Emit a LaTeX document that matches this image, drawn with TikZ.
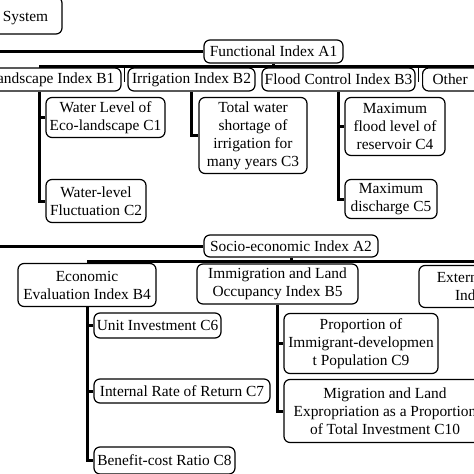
\documentclass[tikz,border=0pt]{standalone}
\usepackage{fontspec}
\setmainfont{Liberation Serif}
\begin{document}
\begin{tikzpicture}[x=1pt, y=-1pt,
  box/.style={draw, line width=1.2pt, rounded corners=6pt, fill=white, align=center, inner sep=2pt, font=\fontsize{15.4}{18}\selectfont},
  link/.style={line width=3pt},
  tick/.style={line width=1.2pt}]
\useasboundingbox (0,0) rectangle (474,474);
\clip (0,0) rectangle (474,474);

% Root
\node[box, minimum width=73, minimum height=37, text height=16pt] (sys) at (25.5,15.5) {System};

% Functional index
\node[box, minimum width=139, minimum height=23] (A1) at (273.5,51.5) {Functional Index A1};
\node[box, minimum width=164, minimum height=23] (B1) at (39,79.5) {Eco-landscape Index B1};
\node[box, minimum width=127, minimum height=23] (B2) at (191.5,79.5) {Irrigation Index B2};
\node[box, minimum width=153, minimum height=23] (B3) at (338.5,79.5) {Flood Control Index B3};
\node[box, anchor=west, minimum height=23, text width=120, align=left, inner xsep=10pt] (Bo) at (422,79.5) {Other};

\node[box, minimum width=119, minimum height=40] (C1) at (105.5,117.5) {Water Level of\\Eco-landscape C1};
\node[box, minimum width=100, minimum height=43] (C2) at (96,201) {Water-level\\Fluctuation C2};
\node[box, minimum width=108, minimum height=76] (C3) at (253,135.5) {Total water\\shortage of\\irrigation for\\many years C3};
\node[box, minimum width=100, minimum height=58] (C4) at (395,126.5) {Maximum\\flood level of\\reservoir C4};
\node[box, minimum width=92, minimum height=39] (C5) at (391,199) {Maximum\\discharge C5};

% Socio-economic index
\node[box, minimum width=174, minimum height=22] (A2) at (291,246) {Socio-economic Index A2};
\node[box, minimum width=138, minimum height=43] (B4) at (87,285) {Economic\\Evaluation Index B4};
\node[box, minimum width=161, minimum height=40] (B5) at (277.5,284) {Immigration and Land\\Occupancy Index B5};
\node[box, minimum width=129, minimum height=42] (B6) at (483.5,286.5) {External Effect\\Index B6};

\node[box, minimum width=127, minimum height=25] (C6) at (157.5,325.5) {Unit Investment C6};
\node[box, minimum width=176, minimum height=24] (C7) at (182,391) {Internal Rate of Return C7};
\node[box, minimum width=141, minimum height=27] (C8) at (164.5,460.5) {Benefit-cost Ratio C8};
\node[box, minimum width=154, minimum height=60] (C9) at (361,343.5) {Proportion of\\Immigrant-developmen\\t Population C9};
\node[box, minimum width=202, minimum height=63] (C10) at (385,411) {Migration and Land\\Expropriation as a Proportion\\of Total Investment C10};

% Links, functional branch
\coordinate (rootA) at (-20,51.5);
\coordinate (busA) at (B1.north |- 0,66);
\coordinate (busAend) at (490,66);
\draw[link] (rootA) -- (A1.west);
\draw[link] (busA) -- (busAend);
\draw[link] (A1.south) -- (A1.south |- busA);
\coordinate (gapA) at (124.5,66);
\coordinate (gapB) at (418.5,66);
\draw[tick] (gapA) -- ++(0,16);
\draw[tick] (gapB) -- ++(0,16);
\draw[link] (B1.south) |- (C2.west);
\draw[link] (B2.south) |- (C3.west);
\draw[link] (B3.south) |- (C5.west);

% Links, socio-economic branch
\coordinate (rootB) at (-20,246);
\coordinate (busB) at (B4.north |- 0,261);
\coordinate (busBend) at (490,261);
\draw[link] (rootB) -- (A2.west);
\draw[link] (busB) -- (busBend);
\draw[link] (A2.south) -- (A2.south |- busB);
\draw[link] (B4.south) |- (C8.west);
\draw[link] (B5.south) |- (C10.west);

% Side stubs
\foreach \p/\c in {B1/C1, B3/C4, B4/C6, B4/C7, B5/C9}
  \draw[link] (\p.south |- \c.west) -- (\c.west);
\end{tikzpicture}
\end{document}
